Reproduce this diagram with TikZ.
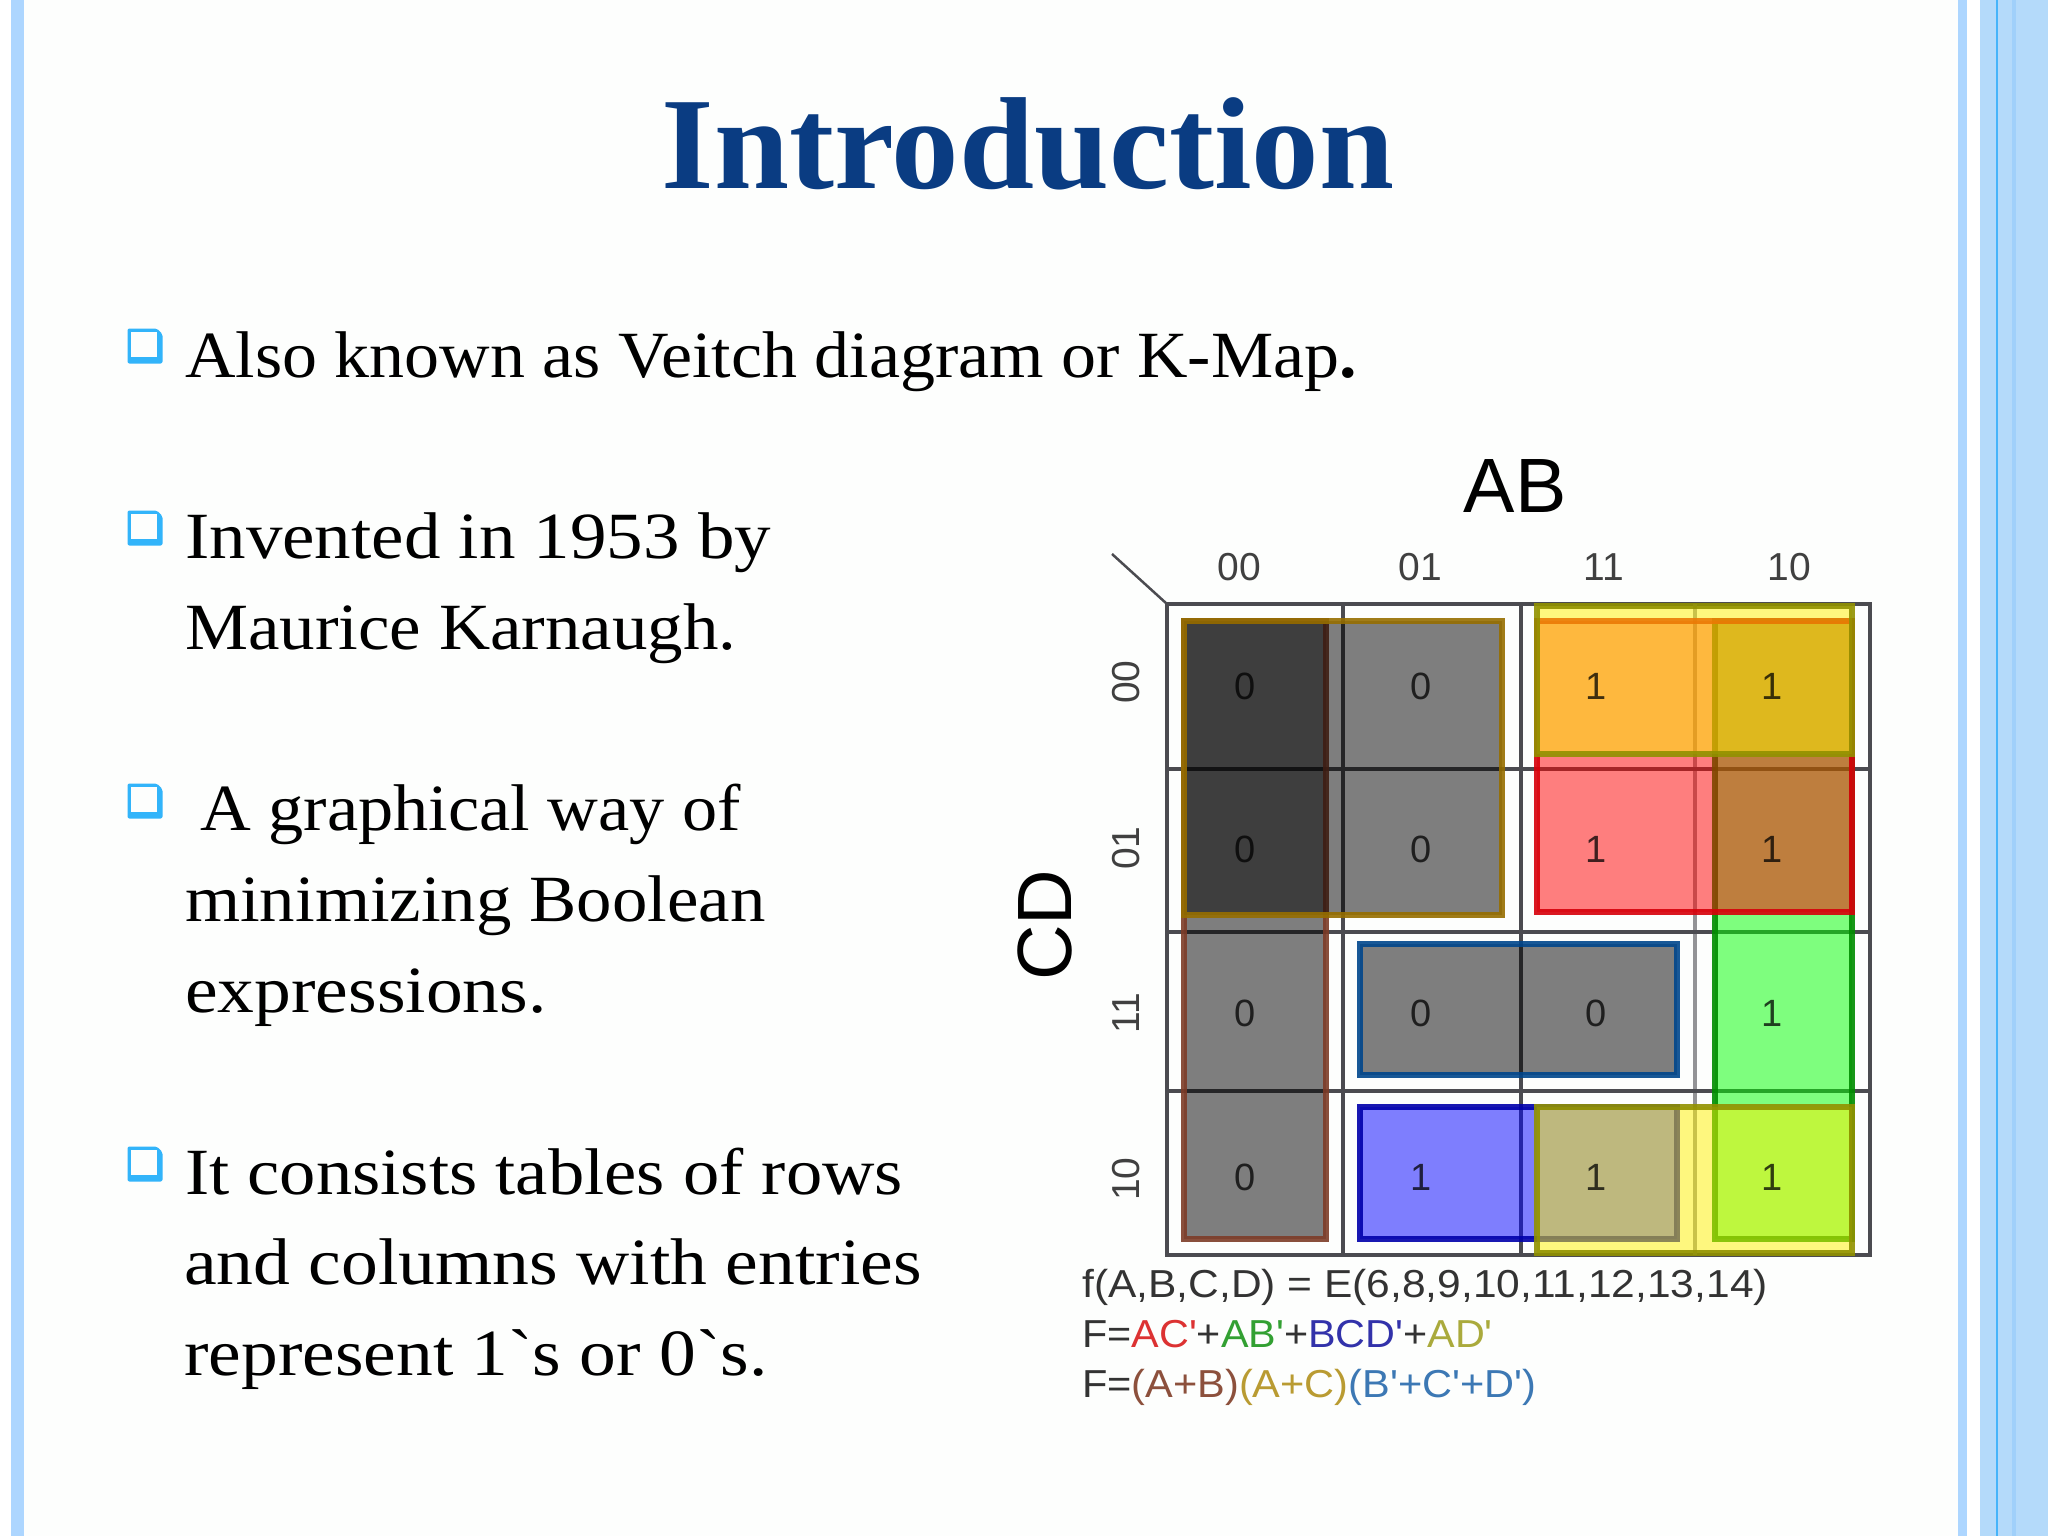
\documentclass[tikz,border=0pt]{standalone}
\usepackage{fontspec}
\setmainfont{Liberation Serif}
\newfontfamily\arialf{Liberation Sans}
\newfontfamily\gravef{Liberation Serif}
\newcommand{\fsz}[1]{\fontsize{#1}{#1}\selectfont}
\newcommand{\sx}[2]{\scalebox{#1}[1]{#2}}
\definecolor{pagebg}{RGB}{253,254,253}
\definecolor{stripL}{RGB}{173,214,255}
\definecolor{stripR}{RGB}{180,218,250}
\definecolor{stripLine}{RGB}{70,180,250}
\definecolor{stripMid}{RGB}{160,208,250}
\definecolor{titleblue}{RGB}{10,60,130}
\definecolor{bulletc}{RGB}{50,180,250}
\definecolor{gridc}{RGB}{75,75,80}
\definecolor{gold}{RGB}{150,110,0}
\definecolor{brownc}{RGB}{125,60,40}
\definecolor{navy}{RGB}{0,70,140}
\definecolor{redc}{RGB}{215,0,10}
\definecolor{olivec}{RGB}{145,145,0}
\definecolor{greenc}{RGB}{0,140,0}
\definecolor{bluec}{RGB}{0,0,170}
\definecolor{fred}{RGB}{220,50,50}
\definecolor{fgreen}{RGB}{50,160,50}
\definecolor{fblue}{RGB}{50,50,170}
\definecolor{folive}{RGB}{170,170,60}
\definecolor{fbrown}{RGB}{140,80,60}
\definecolor{fgold}{RGB}{185,155,50}
\definecolor{fsteel}{RGB}{60,120,180}
\tikzset{
  x=1pt,y=-1pt,
  body/.style={anchor=base west,inner sep=0pt,font=\fsz{66},text=black},
  bigl/.style={inner sep=0pt,font=\arialf\fsz{77},text=black},
  small/.style={inner sep=0pt,font=\arialf\fsz{39},text=black!75},
  cell/.style={inner sep=0pt,font=\arialf\fsz{38},text=black,text opacity=.75},
  formula/.style={anchor=base west,inner sep=0pt,font=\arialf\fsz{39},text=black!80},
  gridl/.style={draw=gridc,line width=4pt},
  grp/.style={line width=6.5pt,fill opacity=.5,draw opacity=.9},
}
\newcommand{\bul}[2]{%
  \fill[bulletc,rounded corners=2pt] (#1-17.5,#2-17.5) -- (#1+12,#2-17.5) -- (#1+17.5,#2-12) -- (#1+17.5,#2+17.5) -- (#1-17.5,#2+17.5) -- cycle;
  \fill[pagebg] (#1-14.5,#2-14.5) rectangle (#1+11.5,#2+10.5);}
\begin{document}
\begin{tikzpicture}
\useasboundingbox (0,0) rectangle (2048,1536);
% page and side strips
\fill[pagebg] (0,0) rectangle (2048,1536);
\fill[white] (0,0) rectangle (11,1536);
\fill[stripL] (11,0) rectangle (24,1536);
\fill[stripL] (1958,0) rectangle (1967,1536);
\fill[white] (1967,0) rectangle (1980,1536);
\fill[stripR] (1980,0) rectangle (2048,1536);
\fill[stripLine] (1996,0) rectangle (1998,1536);
\fill[stripMid] (2012,0) rectangle (2016,1536);
% title
\node[inner sep=0pt,anchor=base,text=titleblue,font=\bfseries\fsz{131}] (title) at (1028,189) {\sx{1.03}{Introduction}};
% bullets
\bul{145}{346}\bul{145}{528}\bul{145}{801}\bul{145}{1164}
% body text
\node[body] (l1) at (185,377) {\sx{1.06}{Also known as Veitch diagram or K-Map\textbf{.}}};
\node[body] (l2) at (185,558) {\sx{1.106}{Invented in 1953 by}};
\node[body] (l3) at (185,649) {\sx{1.074}{Maurice Karnaugh.}};
\node[body] (l4) at (200,830) {\sx{1.065}{A graphical way of}};
\node[body] (l5) at (185,921) {\sx{1.073}{minimizing Boolean}};
\node[body] (l6) at (185,1012) {\sx{1.114}{expressions.}};
\node[body] (l7) at (185,1194) {\sx{1.10}{It consists tables of rows}};
\node[body] (l8) at (184,1284) {\sx{1.115}{and columns with entries}};
\node[body] (l9) at (184,1375) {\sx{1.113}{represent 1{\gravef `}s or 0{\gravef `}s.}};
% axis labels
\node[bigl] (ab) at (1515,486) {AB};
\node[bigl,rotate=90] (cd) at (1045,925) {CD};
\node[small] (c0) at (1239,567) {00};
\node[small] (c1) at (1420,567) {01};
\node[small] (c2) at (1604,567) {11};
\node[small] (c3) at (1789,567) {10};
\node[small,rotate=90] (r0) at (1126,682) {00};
\node[small,rotate=90] (r1) at (1126,848) {01};
\node[small,rotate=90] (r2) at (1126,1013) {11};
\node[small,rotate=90] (r3) at (1126,1179) {10};
% grid
\coordinate (gTL) at (1167,604);
\coordinate (diag) at (1112,554);
\draw[gridc,line width=2.5pt] (diag) -- (gTL);
\draw[gridl] (1167,604) rectangle (1870,1255);
\draw[gridl] (1343,604) -- (1343,1255);
\draw[gridl] (1521,604) -- (1521,1255);
\draw[gridc!60,line width=4pt] (1695,604) -- (1695,1255);
\draw[gridl] (1167,769) -- (1870,769);
\draw[gridl] (1167,932) -- (1870,932);
\draw[gridl] (1167,1091) -- (1870,1091);
% groups
\draw[grp,draw=brownc,fill=black] (1184,621) rectangle (1326,1239);
\draw[grp,draw=gold,fill=black] (1184,621) rectangle (1502,915);
\draw[grp,draw=navy,fill=black] (1360,944) rectangle (1677,1075);
\draw[grp,draw=greenc,fill=green] (1715,621) rectangle (1852,1239);
\draw[grp,draw=redc,fill=red] (1537,621) rectangle (1852,912);
\draw[grp,draw=bluec,fill=blue] (1360,1107) rectangle (1677,1239);
\draw[grp,draw=olivec,fill=yellow] (1537,606) rectangle (1852,754);
\draw[grp,draw=olivec,fill=yellow] (1537,1107) rectangle (1852,1253);
% cell values
\node[cell] (v00) at (1245,686) {0};
\node[cell] (v01) at (1421,686) {0};
\node[cell] (v02) at (1596,686) {1};
\node[cell] (v03) at (1772,686) {1};
\node[cell] (v10) at (1245,849) {0};
\node[cell] (v11) at (1421,849) {0};
\node[cell] (v12) at (1596,849) {1};
\node[cell] (v13) at (1772,849) {1};
\node[cell] (v20) at (1245,1013) {0};
\node[cell] (v21) at (1421,1013) {0};
\node[cell] (v22) at (1596,1013) {0};
\node[cell] (v23) at (1772,1013) {1};
\node[cell] (v30) at (1245,1177) {0};
\node[cell] (v31) at (1421,1177) {1};
\node[cell] (v32) at (1596,1177) {1};
\node[cell] (v33) at (1772,1177) {1};
% formulas
\node[formula] (f1) at (1082,1297) {\sx{1.09}{f(A,B,C,D) = E(6,8,9,10,11,12,13,14)}};
\node[formula] (f2) at (1082,1347) {\sx{1.06}{F=\textcolor{fred}{AC'}+\textcolor{fgreen}{AB'}+\textcolor{fblue}{BCD'}+\textcolor{folive}{AD'}}};
\node[formula] (f3) at (1082,1397) {\sx{1.065}{F=\textcolor{fbrown}{(A+B)}\textcolor{fgold}{(A+C)}\textcolor{fsteel}{(B'+C'+D')}}};
\end{tikzpicture}
\end{document}
